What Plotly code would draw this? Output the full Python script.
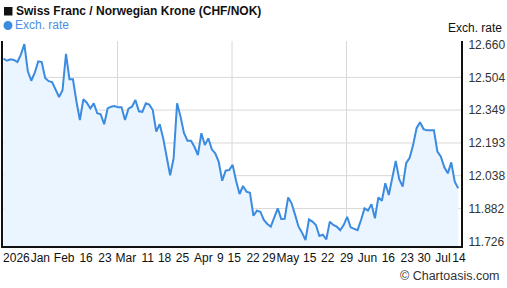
import plotly.graph_objects as go

# Exchange rate values (CHF/NOK)
rates = [
    12.593, 12.583, 12.590, 12.587, 12.577, 12.612, 12.662, 12.533, 12.488, 12.526,
    12.580, 12.577, 12.501, 12.486, 12.482, 12.446, 12.411, 12.443, 12.616, 12.495,
    12.495, 12.391, 12.302,
    12.400, 12.384, 12.357, 12.381, 12.334, 12.329, 12.282, 12.357, 12.365, 12.368,
    12.362, 12.362, 12.302, 12.356, 12.365, 12.397, 12.343, 12.340, 12.381, 12.375,
    12.349,
    12.247, 12.282, 12.215, 12.128, 12.040, 12.120, 12.381, 12.318, 12.239, 12.204,
    12.204, 12.175, 12.136, 12.239, 12.183, 12.215, 12.163, 12.144, 12.104, 12.014,
    12.062, 12.065, 12.089,
    12.014, 11.951, 11.989, 11.962, 11.957, 11.848, 11.872, 11.867, 11.828, 11.809,
    11.796, 11.843, 11.883, 11.833, 11.834, 11.935, 11.907, 11.852, 11.796, 11.768,
    11.733,
    11.831, 11.820, 11.804, 11.752, 11.758, 11.736, 11.820, 11.804, 11.796, 11.780,
    11.804, 11.843, 11.793, 11.788, 11.780, 11.828, 11.883, 11.872, 11.902, 11.836,
    11.935, 11.919, 12.002, 11.946, 12.033, 12.108, 12.021, 11.986, 12.097, 12.123,
    12.183, 12.263, 12.291, 12.259, 12.253, 12.253, 12.253, 12.152, 12.128, 12.078,
    12.049, 12.101, 12.009, 11.978,
]
idx = list(range(len(rates)))

# X tick labels and their positions (in data index units)
x_tick_text = ["2026", "Jan", "Feb", "16", "23", "Mar", "11", "18", "25", "Apr", "9", "15",
               "22", "29", "May", "15", "22", "29", "Jun", "16", "23", "30", "Jul", "14"]
x_tick_vals = [3.72, 10.6, 17.47, 23.78, 29.22, 35.23, 41.54, 46.4, 51.56, 57.58, 62.45, 66.46,
               71.9, 76.48, 81.92, 88.23, 93.38, 98.83, 104.84, 110.86, 116.3, 121.17, 126.61, 131.19]

# Y ticks
y_tick_vals = [11.726, 11.882, 12.038, 12.193, 12.349, 12.504, 12.660]
y_tick_text = ["11.726", "11.882", "12.038", "12.193", "12.349", "12.504", "12.660"]
y_grid_vals = y_tick_vals[1:-1]

W, H = 507, 288
ML, MR, MT, MB = 1, 46, 41, 42
PW = W - ML - MR
PH = H - MT - MB

def px_x(p):
    return (p - ML) / PW

def px_y(p):
    return (H - MB - p) / PH

LINE = "#3b8be0"
FONT = "Liberation Sans, Arial, sans-serif"

fig = go.Figure()
fig.add_trace(go.Scatter(
    x=idx, y=rates, mode="lines",
    line=dict(color=LINE, width=2),
    fill="tozeroy", fillcolor="#ebf5ff",
    hoverinfo="skip", showlegend=False,
))

shapes = []
for gv in y_grid_vals:
    shapes.append(dict(type="line", xref="paper", yref="y", x0=0, x1=1, y0=gv, y1=gv,
                       line=dict(color="#d8d8d8", width=1), layer="below"))
for fx in [0.25, 0.5, 0.75]:
    shapes.append(dict(type="line", xref="paper", yref="paper", x0=fx, x1=fx, y0=0, y1=1,
                       line=dict(color="#d8d8d8", width=1), layer="below"))
# title square and legend dot
shapes.append(dict(type="rect", xref="paper", yref="paper",
                   x0=px_x(2), x1=px_x(10.5), y0=px_y(15.5), y1=px_y(7),
                   fillcolor="#111", line=dict(width=0)))
shapes.append(dict(type="circle", xref="paper", yref="paper",
                   x0=px_x(1.5), x1=px_x(10.5), y0=px_y(30), y1=px_y(21),
                   fillcolor="#3b8be0", line=dict(width=0)))

annotations = [
    dict(text="<b>Swiss Franc / Norwegian Krone (CHF/NOK)</b>", x=px_x(12), y=px_y(11),
         xref="paper", yref="paper", xanchor="left", yanchor="middle", showarrow=False,
         font=dict(size=12, color="#111", family=FONT)),
    dict(text="Exch. rate", x=px_x(11), y=px_y(25.5), xref="paper", yref="paper", xanchor="left",
         yanchor="middle", showarrow=False, font=dict(size=12, color="#4a90e2", family=FONT)),
    dict(text="Exch. rate", x=px_x(504), y=px_y(28), xref="paper", yref="paper", xanchor="right",
         yanchor="middle", showarrow=False, font=dict(size=12, color="#111", family=FONT)),
    dict(text="© Chartoasis.com", x=px_x(502), y=px_y(276), xref="paper", yref="paper",
         xanchor="right", yanchor="middle", showarrow=False,
         font=dict(size=12.5, color="#333", family=FONT)),
]

fig.update_layout(
    width=W, height=H,
    margin=dict(l=ML, r=MR, t=MT, b=MB, pad=0),
    paper_bgcolor="white", plot_bgcolor="white",
    font=dict(family=FONT, size=12, color="#222"),
    shapes=shapes, annotations=annotations,
    xaxis=dict(range=[-0.15, 131.8], tickvals=x_tick_vals, ticktext=x_tick_text,
               tickangle=0, showgrid=False, zeroline=False, showline=True,
               linecolor="#111", linewidth=2, ticks="",
               tickfont=dict(size=12, color="#111"), fixedrange=True),
    yaxis=dict(range=[11.7045, 12.6766], side="right", tickvals=y_tick_vals,
               ticktext=y_tick_text, showgrid=False, zeroline=False, showline=True,
               mirror=True, linecolor="#111", linewidth=2, ticks="",
               ticklabelstandoff=3, tickfont=dict(size=12, color="#333"), fixedrange=True),
)

fig.write_html("out.html")
